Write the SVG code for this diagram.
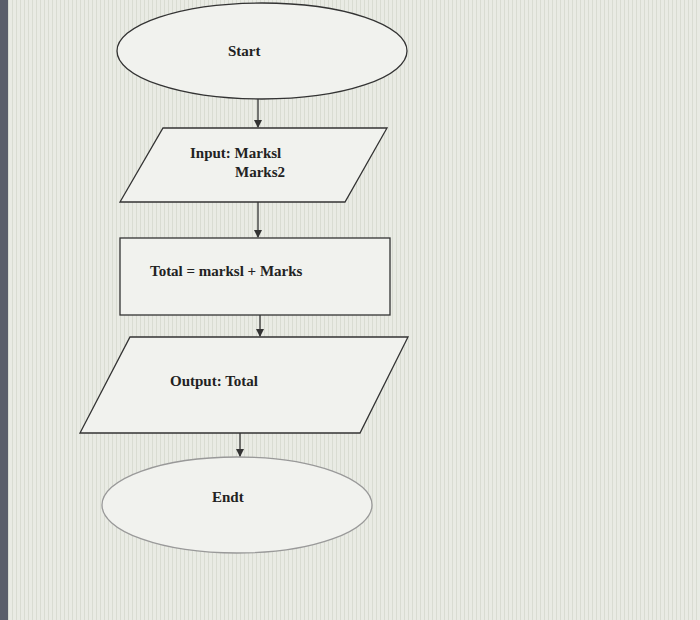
<svg xmlns="http://www.w3.org/2000/svg" width="700" height="620" viewBox="0 0 700 620">
<defs>
<pattern id="st" width="4" height="4" patternUnits="userSpaceOnUse"><rect width="4" height="4" fill="#e9ebe4"/><rect width="1" height="4" fill="#d9dcd2"/></pattern>
<marker id="ah" markerWidth="8" markerHeight="8" refX="7" refY="4" orient="auto" markerUnits="userSpaceOnUse"><path d="M0,0 L8,4 L0,8 z" fill="#333"/></marker>
</defs>
<style>
.s{fill:#f1f2ee;stroke:#333;stroke-width:1.3}
.t{font-family:"Liberation Serif",serif;font-weight:bold;font-size:15px;fill:#222}
.c{stroke:#333;stroke-width:1.3;fill:none;marker-end:url(#ah)}
</style>
<rect width="700" height="620" fill="url(#st)"/>
<rect width="8" height="620" fill="#5a5e6a"/>
<g id="start"><ellipse class="s" cx="262" cy="51" rx="145" ry="48"/><text class="t" x="228" y="56">Start</text></g>
<g id="input"><polygon class="s" points="163,128 387,128 345,202 120,202"/><text class="t" x="190" y="158">Input: Marksl</text><text class="t" x="235" y="177">Marks2</text></g>
<g id="process"><rect class="s" x="120" y="238" width="270" height="77"/><text class="t" x="150" y="276">Total = marksl + Marks</text></g>
<g id="output"><polygon class="s" points="130,337 408,337 360,433 80,433"/><text class="t" x="170" y="386">Output: Total</text></g>
<g id="end"><ellipse class="s" cx="237" cy="505" rx="135" ry="48" style="stroke:#999"/><text class="t" x="212" y="502">Endt</text></g>
<g id="connectors">
<line class="c" x1="258" y1="99" x2="258" y2="127"/>
<line class="c" x1="258" y1="202" x2="258" y2="237"/>
<line class="c" x1="260" y1="315" x2="260" y2="336"/>
<line class="c" x1="240" y1="433" x2="240" y2="456"/>
</g>
</svg>
